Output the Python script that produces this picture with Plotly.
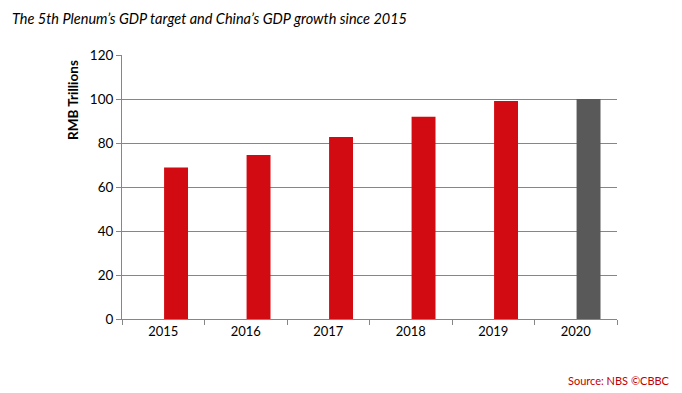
import plotly.graph_objects as go

years = ["2015", "2016", "2017", "2018", "2019", "2020"]
gdp = [68.9, 74.6, 82.7, 91.9, 99.1, 100.0]
colors = ["#D20A11", "#D20A11", "#D20A11", "#D20A11", "#D20A11", "#595959"]
y_ticks = [0, 20, 40, 60, 80, 100, 120]

# page body has an 8px margin; plot area in the viewport: x 122..617, y 55..319
L, T, PW, PH = 122, 55, 495, 264
def px(x):
    return (x - L) / PW
def py(y):
    return 1 - (y - T) / PH

fig = go.Figure()
fig.add_trace(go.Bar(x=years, y=gdp, marker=dict(color=colors, line=dict(width=0)),
                     width=0.29, offset=0.01))

font_family = "Lato, 'Open Sans', sans-serif"
fig.update_layout(
    width=674, height=385,
    margin=dict(l=114, r=65, t=47, b=74),
    paper_bgcolor="white", plot_bgcolor="white",
    showlegend=False,
    font=dict(family=font_family, size=13, color="#000000"),
    xaxis=dict(type="category", showgrid=False, showline=True, linecolor="#868686", linewidth=1,
               ticks="outside", tickson="boundaries", ticklen=5, tickcolor="#868686",
               tickfont=dict(size=13, color="#000000"), range=[-0.5, 5.5]),
    yaxis=dict(range=[0, 120], tickvals=y_ticks, showgrid=True, gridcolor="#868686", gridwidth=1,
               showline=True, linecolor="#868686", linewidth=1, ticks="outside", ticklen=5,
               tickcolor="#868686", zeroline=False,
               tickfont=dict(size=13.5, color="#000000")),
    annotations=[
        dict(text="<i>The 5th Plenum\u2019s GDP target and China\u2019s GDP growth since 2015</i>",
             xref="paper", yref="paper", x=px(10), y=py(8.5), xanchor="left", yanchor="top",
             showarrow=False, font=dict(size=14.5, color="#000000")),
        dict(text="<b>RMB Trillions</b>", xref="paper", yref="paper", x=px(73), y=py(100),
             xanchor="center", yanchor="middle", textangle=-90, showarrow=False,
             font=dict(size=13.5, color="#000000")),
        dict(text="Source: NBS \u00a9CBBC", xref="paper", yref="paper", x=px(672), y=py(380),
             xanchor="right", yanchor="middle", showarrow=False,
             font=dict(size=11, color="#C00000")),
    ],
)
fig.write_html("out.html")
